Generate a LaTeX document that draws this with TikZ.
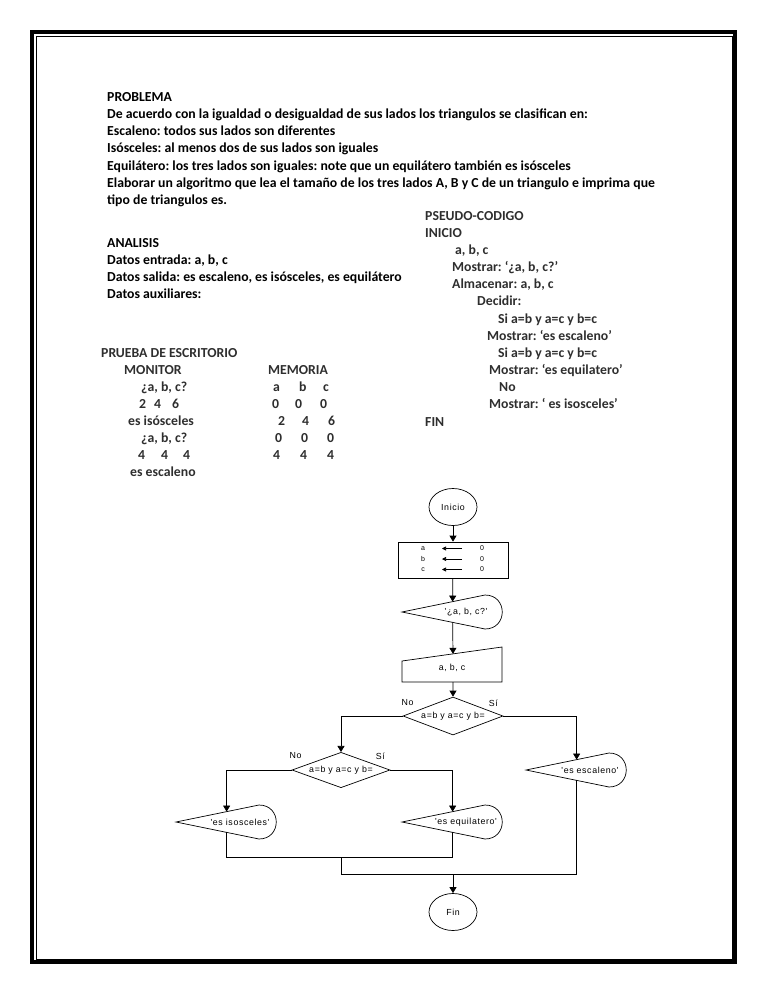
\documentclass[tikz,border=0pt]{standalone}
\usepackage{fontspec}
\setmainfont{Carlito}
\newfontfamily\flowfont[LetterSpace=7]{Liberation Sans}
\usetikzlibrary{shapes.geometric,arrows.meta,calc}

\tikzset{
  txt/.style={anchor=base west,inner sep=0pt,font=\fontsize{13.75}{16}\selectfont\bfseries\frenchspacing},
  graytxt/.style={txt,text=black!82},
  flow/.style={line width=0.7pt},
  flowlbl/.style={inner sep=1pt,font=\fontsize{8.8}{10}\selectfont\flowfont},
  tinylbl/.style={inner sep=1pt,font=\fontsize{7}{8}\selectfont\flowfont},
  term/.style={flow,draw,ellipse,minimum width=48pt,minimum height=37pt,inner sep=0pt,flowlbl},
  decide/.style={flow,draw,diamond,aspect=2.6,minimum width=100pt,minimum height=38pt,inner sep=0pt,flowlbl},
  arr/.style={flow,-{Triangle[width=7pt,length=6pt]}},
  smallarr/.style={line width=0.6pt,-{Triangle[width=4pt,length=4pt]}},
}

% name, x of the incoming arrow, centre y, text
\newcommand\dispnode[4]{%
  \node[flowlbl] (#1) at (#2+13,#3) {#4};
  \draw[flow] ($(#1)+(-64,0)$) -- coordinate[pos=.61] (#1-in) ($(#1)+(19,-17)$)
    .. controls ($(#1)+(42,-17)$) and ($(#1)+(42,17)$) .. ($(#1)+(19,17)$)
    -- coordinate[pos=.39] (#1-out) ($(#1)+(-64,0)$) -- cycle;
}

\begin{document}
\begin{tikzpicture}[x=1pt,y=-1pt]
  \useasboundingbox (0,0) rectangle (768,994);
  \draw[line width=4pt] (32,32) rectangle (735.3,962);
  \draw[line width=0.8pt] (36,36) rectangle (732,959);

  \foreach \t [count=\i from 0] in {PROBLEMA,
      {De acuerdo con la igualdad o desigualdad de sus lados los triangulos se clasifican en:},
      {Escaleno: todos sus lados son diferentes},
      {Isósceles: al menos dos de sus lados son iguales},
      {Equilátero: los tres lados son iguales: note que un equilátero también es isósceles},
      {Elaborar un algoritmo que lea el tamaño de los tres lados A, B y C de un triangulo e imprima que},
      {tipo de triangulos es.}}
    \node[txt] (prob\i) at (107,101+17.3*\i) {\t};

  \foreach \t [count=\i from 0] in {ANALISIS, {Datos entrada: a, b, c},
      {Datos salida: es escaleno, es isósceles, es equilátero}, {Datos auxiliares:}}
    \node[txt] (ana\i) at (107,247+17.3*\i) {\t};

  \foreach \x/\t [count=\i from 0] in {425/PSEUDO-CODIGO, 425/INICIO, 455/{a, b, c},
      452/{Mostrar: ‘¿a, b, c?’}, 452/{Almacenar: a, b, c}, 477/{Decidir:},
      498/{Si a=b y a=c y b=c}, 487/{Mostrar: ‘es escaleno’}, 498/{Si a=b y a=c y b=c},
      489/{Mostrar: ‘es equilatero’}, 499/No, 489/{Mostrar: ‘ es isosceles’}, 425/FIN}
    \node[graytxt] (ps\i) at (\x,220+17.17*\i) {\t};

  \node[graytxt] (prueba) at (101,357) {PRUEBA DE ESCRITORIO};
  \foreach \x/\t [count=\i from 0] in {124/MONITOR, 141/{¿a, b, c?},
      139/{2\hspace{8pt}4\hspace{11pt}6}, 128/{es isósceles}, 141/{¿a, b, c?},
      138/{4\hspace{16pt}4\hspace{15pt}4}, 130/{es escaleno}}
    \node[graytxt] (mon\i) at (\x,374+17.1*\i) {\t};
  \node[graytxt] (memoria) at (268,374) {MEMORIA};
  \foreach \ta/\xa/\tb/\xb/\tc/\xc [count=\i] in {a/273/b/299/c/323, 0/272/0/295/0/320,
      2/278/4/302/6/328, 0/275/0/301/0/327, 4/273/4/300/4/327}{
    \node[graytxt] (mem\i a) at (\xa,374+17.1*\i) {\ta};
    \node[graytxt] (mem\i b) at (\xb,374+17.1*\i) {\tb};
    \node[graytxt] (mem\i c) at (\xc,374+17.1*\i) {\tc};
  }

  \node[term] (ini) at (453,507) {Inicio};
  \node[flow,draw,minimum width=110pt,minimum height=36pt] (init) at (453,560) {};
  \foreach \v [count=\i] in {a,b,c}{
    \node[tinylbl] (var\i) at (423,538+10.5*\i) {\v};
    \node[tinylbl] (cero\i) at (482,538+10.5*\i) {0};
    \draw[smallarr,shorten <=20pt,shorten >=19pt] (cero\i.center) -- (var\i.center);
  }
  \dispnode{pide}{453}{612}{'¿a, b, c?'}
  \node[flowlbl] (lee) at (452,668) {a, b, c};
  \draw[flow] ($(lee)+(-50,14)$) -- ($(lee)+(-50,-7)$) -- coordinate[pos=.51] (lee-in) ($(lee)+(50,-21)$)
    -- ($(lee)+(50,14)$) -- coordinate[pos=.49] (lee-out) ($(lee)+(-50,14)$) -- cycle;
  \node[decide] (dec1) at (453,716) {a=b y a=c y b=};
  \node[flowlbl] (no1) at ($(dec1.west)+(5,-13)$) {No};
  \node[flowlbl] (si1) at ($(dec1.east)+(-10,-13)$) {Sí};
  \node[decide,minimum width=98pt,minimum height=34pt] (dec2) at (341,770) {a=b y a=c y b=};
  \node[flowlbl] (no2) at ($(dec2.west)+(4,-14)$) {No};
  \node[flowlbl] (si2) at ($(dec2.east)+(-10,-14)$) {Sí};
  \dispnode{esc}{577}{770}{'es escaleno'}
  \dispnode{iso}{227}{822}{'es isosceles'}
  \dispnode{equ}{453}{822}{'es equilatero'}
  \coordinate (une1) at (341,857);
  \coordinate (une2) at (453,874);
  \node[term] (fin) at (453,912) {Fin};

  \draw[arr] (ini) -- (init);
  \draw[arr] (init) -- (pide-in);
  \draw[arr] (pide-out) -- (lee-in);
  \draw[arr] (lee-out) -- (dec1);
  \draw[arr] (dec1.west) -| (dec2.north);
  \draw[arr] (dec1.east) -| (esc-in);
  \draw[arr] (dec2.west) -| (iso-in);
  \draw[arr] (dec2.east) -| (equ-in);
  \draw[flow] (iso-out) |- (une1) -| (equ-out);
  \draw[flow] (une1) |- (une2) -| (esc-out);
  \draw[arr] (une2) -- (fin);
\end{tikzpicture}
\end{document}
